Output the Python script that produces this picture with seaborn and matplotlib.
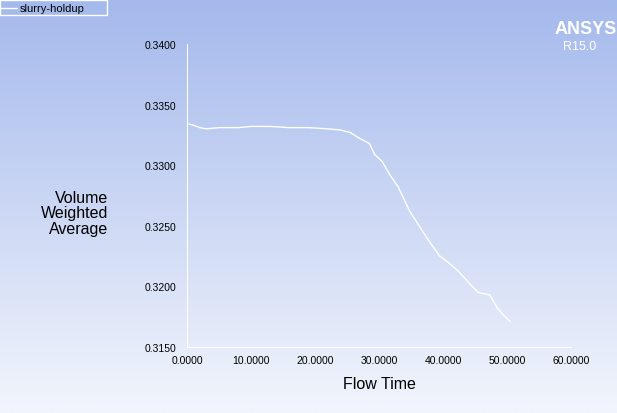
import numpy as np
import pandas as pd
import matplotlib
matplotlib.use("Agg")
import matplotlib.pyplot as plt
import seaborn as sns
from matplotlib.ticker import MultipleLocator, FormatStrFormatter
from matplotlib.colors import LinearSegmentedColormap
from matplotlib.patches import Rectangle

flow_time = [0.3, 1.0, 2.0, 3.0, 5.0, 8.0, 10.0, 13.0, 16.0, 19.0, 22.0, 24.0, 25.5, 27.0, 28.5, 29.3, 30.5, 31.7, 33.0, 34.8, 36.5, 38.0, 39.5, 41.0, 42.5, 44.2, 45.5, 47.3, 48.5, 49.5, 50.5]
holdup = [0.3334, 0.3333, 0.3331, 0.3330, 0.3331, 0.3331, 0.3332, 0.3332, 0.3331, 0.3331, 0.3330, 0.3329, 0.3327, 0.3322, 0.3318, 0.3309, 0.3303, 0.3292, 0.3282, 0.3262, 0.3248, 0.3236, 0.3225, 0.3219, 0.3212, 0.3202, 0.3195, 0.3193, 0.3182, 0.3176, 0.3171]
df = pd.DataFrame({"Flow Time": flow_time, "holdup": holdup})

sns.set_style("white")
plt.rcParams['font.family'] = ['Liberation Sans', 'DejaVu Sans']
plt.rcParams['text.color'] = 'black'
plt.rcParams['axes.labelcolor'] = 'black'
fig = plt.figure(figsize=(6.17, 4.14), dpi=100)
bg = fig.add_axes([0, 0, 1, 1])
grad = np.linspace(0, 1, 256).reshape(-1, 1)
cmap = LinearSegmentedColormap.from_list("g", ["#a4b9ec", "#f2f5fc"])
bg.imshow(grad, aspect="auto", cmap=cmap, extent=[0, 1, 0, 1], origin="upper")
bg.set_axis_off()

ax = fig.add_axes([187/617, 1-348/414, (571-187)/617, (348-45)/414])
ax.patch.set_alpha(0)
sns.lineplot(data=df, x="Flow Time", y="holdup", ax=ax, color="white", lw=1.0)
ax.set_xlim(0, 60)
ax.set_ylim(0.315, 0.340)
for s in ["top", "right"]:
    ax.spines[s].set_visible(False)
for s in ["left", "bottom"]:
    ax.spines[s].set_color("white")
ax.xaxis.set_major_locator(MultipleLocator(10))
ax.xaxis.set_minor_locator(MultipleLocator(2))
ax.yaxis.set_major_locator(MultipleLocator(0.005))
ax.yaxis.set_minor_locator(MultipleLocator(0.0025))
ax.xaxis.set_major_formatter(FormatStrFormatter("%.4f"))
ax.yaxis.set_major_formatter(FormatStrFormatter("%.4f"))
ax.tick_params(axis="x", which="both", direction="in", color="white", labelsize=7.5, length=3, labelcolor="black", pad=6)
ax.tick_params(axis="y", which="both", direction="out", color="white", labelsize=7.5, length=4, labelcolor="black", pad=4)
ax.set_xlabel("Flow Time", fontsize=11.5, labelpad=8)
ax.set_ylabel("")
fig.text(108/617, 1-214/414, "Volume\nWeighted\nAverage", ha="right", va="center", fontsize=11.5, linespacing=1.05)

fig.text(555/617, 1-30/414, "ANSYS", fontsize=13, fontweight="bold", color="white", ha="left", va="center")
fig.text(563/617, 1-47/414, "R15.0", fontsize=9, color="white", ha="left", va="center")

fig.patches.append(Rectangle((0, 1-16/414), 107/617, 15/414, transform=fig.transFigure, fill=False, ec="white", lw=1))
fig.lines.append(plt.Line2D([0, 17/617], [1-9/414, 1-9/414], transform=fig.transFigure, color="white", lw=1))
fig.text(20/617, 1-9/414, "slurry-holdup", fontsize=8, va="center")

fig.savefig("out.png", dpi=100)
